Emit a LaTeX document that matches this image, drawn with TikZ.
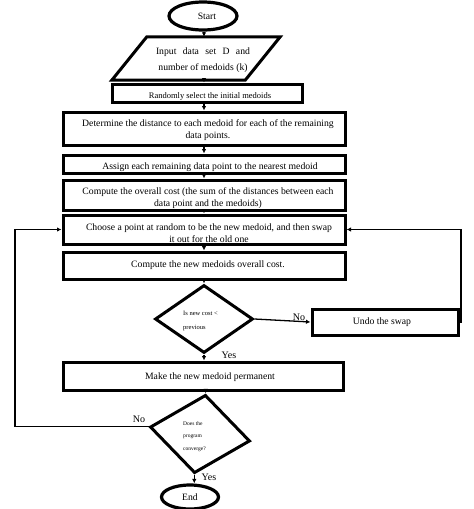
\documentclass[tikz,border=0pt]{standalone}
\usepackage{fontspec}
\setmainfont{Liberation Serif}
\usetikzlibrary{shapes.geometric,arrows.meta}
\begin{document}
\begin{tikzpicture}[x=1pt,y=-1pt,
  box/.style={draw,line width=3pt,inner sep=0pt},
  term/.style={draw,ellipse,line width=3.2pt,inner sep=0pt},
  dec/.style={draw,diamond,line width=3pt,inner sep=0pt},
  txt/.style={inner sep=0pt,align=center,font=\fontsize{9.7}{12}\selectfont},
  small/.style={inner sep=0pt,align=left},
  arr/.style={line width=1.3pt,-{Latex[length=4.5pt,width=4.5pt]}},
  lbl/.style={inner sep=0pt,font=\fontsize{10}{11}\selectfont}
]
\useasboundingbox (0,0) rectangle (474,509);
\coordinate (ax) at (204,0);
\coordinate (l1) at (15,0);
\coordinate (r1) at (461,0);

% terminals
\node[term,minimum width=68pt,minimum height=28pt] (start) at (203,16) {};
\node[txt] (tstart) at (207,16) {Start};

% input parallelogram
\node[minimum width=168pt,minimum height=43pt,inner sep=0pt] (inp) at (196,58.5) {};
\draw[line width=3pt,line join=miter] ([xshift=35pt]inp.north west) -- (inp.north east)
  -- ([xshift=-35pt]inp.south east) -- (inp.south west) -- cycle;
\node[txt,font=\fontsize{9.7}{16}\selectfont] (tinp) at (203,60) {\makebox[94pt][s]{Input data set D and}\\number of medoids (k)};

% process boxes
\node[box,minimum width=190pt,minimum height=18pt] (rand) at (207,93) {};
\node[txt,font=\fontsize{8.5}{10}\selectfont] (trand) at (210,96) {Randomly select the initial medoids};

\node[box,minimum width=282pt,minimum height=33pt] (det) at (204,128.5) {};
\node[txt] (tdet) at (208,130) {Determine the distance to each medoid for each of the remaining\\data points.};

\node[box,minimum width=282pt,minimum height=18pt] (asg) at (204,164) {};
\node[txt] (tasg) at (210,167.5) {Assign each remaining data point to the nearest medoid};

\node[box,minimum width=282pt,minimum height=30pt] (cost) at (204,195) {};
\node[txt] (tcost) at (208,198) {Compute the overall cost (the sum of the distances between each\\data point and the medoids)};

\node[box,minimum width=282pt,minimum height=29pt] (choose) at (204,229.5) {};
\node[txt] (tchoose) at (209,233) {Choose a point at random to be the new medoid, and then swap\\it out for the old one};

\node[box,minimum width=282pt,minimum height=27pt] (cnew) at (204,265.5) {};
\node[txt] (tcnew) at (208,265) {Compute the new medoids overall cost.};

\node[dec,minimum width=98pt,minimum height=68pt] (d1) at (204,319) {};
\node[small,anchor=west,font=\fontsize{6.5}{14}\selectfont] (td1) at (183,321) {Is new cost <\\previous};

\node[box,minimum width=146pt,minimum height=26pt] (undo) at (385,322) {};
\node[txt] (tundo) at (382,322) {Undo the swap};

\node[box,minimum width=280pt,minimum height=28pt] (make) at (203,376) {};
\node[txt] (tmake) at (210,377) {Make the new medoid permanent};

\node[dec,minimum width=101pt,minimum height=79pt,rotate=-8] (d2) at (200,434) {};
\node[small,anchor=west,font=\fontsize{5.5}{12.5}\selectfont] (td2) at (183,436.5) {Does the\\program\\converge?};

\node[term,minimum width=57pt,minimum height=24pt] (end) at (190,497) {};
\node[txt] (tend) at (190,497) {End};

% connectors
\draw[arr] (start.south -| ax) -- (inp.north -| ax);
\draw[arr] (inp.south -| ax) -- (rand.north -| ax);
\draw[arr] (rand.south -| ax) -- (det.north -| ax);
\draw[arr] (det.south -| ax) -- (asg.north -| ax);
\draw[arr] (asg.south -| ax) -- (cost.north -| ax);
\draw[arr] (cost.south -| ax) -- (choose.north -| ax);
\draw[arr] (choose.south -| ax) -- (cnew.north -| ax);
\draw[arr] (cnew.south -| d1.north) -- (d1.north);
\draw[arr] (d1.south) -- (d1.south |- make.north);
\draw[arr] (d1.east) -- (undo.west);
\draw[arr] (make.south -| d2.north) -- (d2.north);
\draw[arr] (d2.south) -- (d2.south |- end.north);
\draw[arr] (undo.east) -- (undo.east -| r1) -- (r1 |- choose.east) -- (choose.east);
\draw[arr] (d2.west) -- (d2.west -| l1) -- (l1 |- choose.west) -- (choose.west);

% labels
\node[lbl] (no1) at (299,317) {No};
\node[lbl] (yes1) at (229,355) {Yes};
\node[lbl] (no2) at (139,419) {No};
\node[lbl] (yes2) at (209,477) {Yes};
\end{tikzpicture}
\end{document}
